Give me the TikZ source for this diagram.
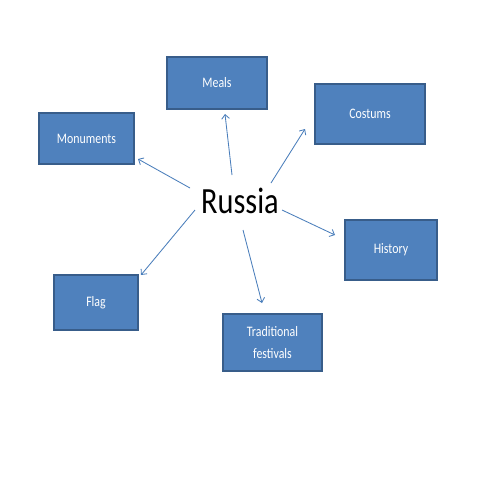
\documentclass[tikz,border=0pt]{standalone}
\usepackage{fontspec}
\usepackage{xcolor}
\usepackage{tikz}
\usetikzlibrary{arrows.meta,positioning,calc}
\newfontfamily\slidefont{Carlito}[FakeStretch=0.82]
\definecolor{boxblue}{HTML}{4F81BD}
\definecolor{boxedge}{HTML}{385D8A}
\definecolor{linkblue}{HTML}{4A7EBB}

\tikzset{
  topic/.style={draw=boxedge, line width=0.8pt, fill=boxblue, text=white,
    font=\slidefont\fontsize{10.3}{16}\selectfont, align=center, inner sep=2pt},
  link/.style={draw=linkblue, line width=0.6pt, -{Straight Barb[length=3pt,width=5.5pt]}}
}

\begin{document}
\begin{tikzpicture}[x=0.025cm,y=-0.025cm]
			\useasboundingbox[fill=white] (0,0) rectangle (480,480);
			
			\node[anchor=base, font=\slidefont\fontsize{26.3}{30}\selectfont] (russia) at (240,213) {Russia};
			
			\node[topic, minimum width=2.5cm, minimum height=1.3cm] (meals) at (217,83) {Meals};
			\node[topic, minimum width=2.75cm, minimum height=1.5cm] (costums) at (370,114) {Costums};
			\node[topic, minimum width=2.375cm, minimum height=1.275cm] (monuments) at (86.5,138.5) {Monuments};
			\node[topic, minimum width=2.3cm, minimum height=1.5cm] (history) at (391,250) {History};
			\node[topic, minimum width=2.1cm, minimum height=1.375cm] (flag) at (96,302.5) {Flag};
			\node[topic, minimum width=2.475cm, minimum height=1.425cm] (festivals) at (272.5,342.5) {Traditional\\festivals};
			
			% arrow ends around the centre word
			\coordinate (s-meals) at (232,175);
			\coordinate (s-costums) at (271,183);
			\coordinate (s-monuments) at (190,188);
			\coordinate (s-history) at (282,210);
			\coordinate (s-flag) at (195,210);
			\coordinate (s-festivals) at (243,230);
			
			% arrow tips next to the boxes
			\coordinate (t-meals) at (225,114);
			\coordinate (t-costums) at (305,129);
			\coordinate (t-monuments) at (138,159);
			\coordinate (t-history) at (335,235);
			\coordinate (t-flag) at (141,275);
			\coordinate (t-festivals) at (262,303);
			
			\draw[link] (s-meals) -- (t-meals);
			\draw[link] (s-costums) -- (t-costums);
			\draw[link] (s-monuments) -- (t-monuments);
			\draw[link] (s-history) -- (t-history);
			\draw[link] (s-flag) -- (t-flag);
			\draw[link] (s-festivals) -- (t-festivals);
			
		\end{tikzpicture}
\end{document}
